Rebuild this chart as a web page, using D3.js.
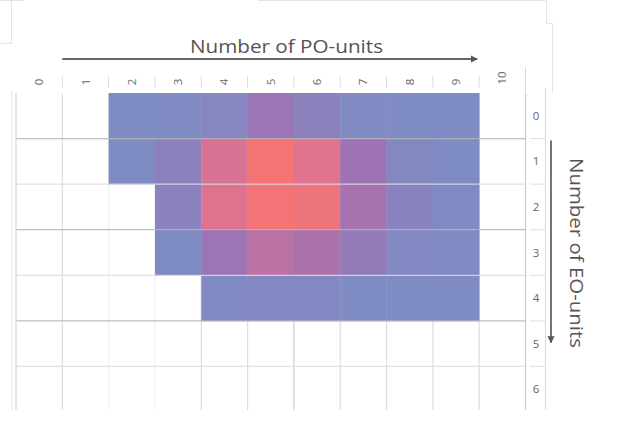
<!DOCTYPE html>
<html>
<head>
<meta charset="utf-8">
<script src="https://cdn.jsdelivr.net/npm/d3@7"></script>
<style>
  html, body { margin: 0; padding: 0; background: #fff; }
  svg { display: block; }
  text { font-family: "Open Sans", "Liberation Sans", sans-serif; }
</style>
</head>
<body>
<script>
// number of PO-units (columns) and EO-units (rows)
const poUnits = [0, 1, 2, 3, 4, 5, 6, 7, 8, 9, 10]
const eoUnits = [0, 1, 2, 3, 4, 5, 6]

// relative frequency per cell (0-100), null = no observation
const eo0 = [null, null, 0, 1, 9, 36, 17, 3, 0, 0, null]
const eo1 = [null, null, 0, 17, 77, 100, 83, 40, 8, 0, null]
const eo2 = [null, null, null, 15, 82, 99, 95, 46, 13, 1, null]
const eo3 = [null, null, null, 0, 36, 58, 49, 28, 5, 1, null]
const eo4 = [null, null, null, null, 3, 6, 4, 0, 0, 0, null]
const eo5 = [null, null, null, null, null, null, null, null, null, null, null]
const eo6 = [null, null, null, null, null, null, null, null, null, null, null]
const rowsValues = [eo0, eo1, eo2, eo3, eo4, eo5, eo6]

const xTitle = "Number of PO-units"
const yTitle = "Number of EO-units"

const width = 624
const height = 436

const cells = []
rowsValues.forEach((row, r) => {
    row.forEach((v, c) => {
        if (v !== null) cells.push({ po: poUnits[c], eo: eoUnits[r], value: v })
    })
})

const svg = d3.select("body").append("svg")
    .attr("width", width)
    .attr("height", height)

const x = d3.scaleBand().domain(poUnits).range([16, 525.5])
const y = d3.scaleBand().domain(eoUnits).range([93, 412])

const color = d3.scaleLinear()
    .domain([0, 40, 80, 100])
    .range(["#7f8cc4", "#9e72b4", "#dc7392", "#f47474"])
    .interpolate(d3.interpolateRgb)

// faint frame left over from the original screenshot
const frame = svg.append("g").attr("fill", "none").attr("stroke", "#e4e4e4")
frame.append("path").attr("d", "M0,43.5H11.5V0")
frame.append("path").attr("d", "M0,0.5H24M258,0.5H546.5V23.5H552.5V92")

svg.append("clipPath").attr("id", "clip")
    .append("rect").attr("x", 0).attr("y", 88).attr("width", width).attr("height", 322)

const grid = svg.append("g").attr("clip-path", "url(#clip)")

// vertical grid lines (under the cells)
const vLines = poUnits.slice(1).concat(["end"])
grid.append("g")
    .selectAll("line")
    .data(vLines)
    .enter().append("line")
    .attr("x1", d => d === "end" ? x.range()[1] : x(d))
    .attr("x2", d => d === "end" ? x.range()[1] : x(d))
    .attr("y1", y.range()[0])
    .attr("y2", y.range()[1])
    .attr("stroke", d => d === 2 || d === 3 ? "#f0f0f0" : (d === 6 || d === "end" ? "#cdcdcd" : "#dddddd"))
    .attr("stroke-width", 1.2)

// heat cells
grid.append("g")
    .selectAll("rect")
    .data(cells)
    .enter().append("rect")
    .attr("x", d => x(d.po))
    .attr("y", d => y(d.eo))
    .attr("width", x.bandwidth() + 0.3)
    .attr("height", y.bandwidth() + 0.3)
    .attr("fill", d => color(d.value))

// horizontal grid lines
grid.append("g")
    .selectAll("line")
    .data(eoUnits.slice(1))
    .enter().append("line")
    .attr("x1", x.range()[0])
    .attr("x2", x.range()[1])
    .attr("y1", d => y(d))
    .attr("y2", d => y(d))
    .attr("stroke", d => d % 2 === 1 ? "#b4b4bd" : "#dcdce2")
    .attr("stroke-opacity", 0.85)
    .attr("stroke-width", 1.3)

// left border lines
grid.append("line").attr("x1", 12).attr("x2", 12).attr("y1", 90).attr("y2", 412)
    .attr("stroke", "#e2e2e2")
grid.append("line").attr("x1", 16).attr("x2", 16).attr("y1", 93).attr("y2", 412)
    .attr("stroke", "#d6d6d6").attr("stroke-width", 1.2)

// right label column
grid.append("line").attr("x1", 545.5).attr("x2", 545.5).attr("y1", 88).attr("y2", 412)
    .attr("stroke", "#d8d8d8")
grid.append("g")
    .selectAll("line")
    .data(eoUnits.slice(1))
    .enter().append("line")
    .attr("x1", 530)
    .attr("x2", 545)
    .attr("y1", d => y(d))
    .attr("y2", d => y(d))
    .attr("stroke", "#e0e0e0")

grid.append("g")
    .selectAll("text")
    .data(eoUnits)
    .enter().append("text")
    .attr("x", 536)
    .attr("y", d => y(d) + y.bandwidth() / 2)
    .attr("dy", "0.35em")
    .attr("text-anchor", "middle")
    .attr("font-size", 11.5)
    .attr("fill", "#666")
    .text(d => d)

// column header labels (rotated)
const header = svg.append("g")
header.selectAll("text")
    .data(poUnits)
    .enter().append("text")
    .attr("transform", d => `translate(${x(d) + x.bandwidth() / 2},${d === 10 ? 78 : 82}) rotate(-90)`)
    .attr("dy", "0.35em")
    .attr("text-anchor", "middle")
    .attr("font-size", 11.5)
    .attr("fill", "#666")
    .text(d => d)

header.selectAll("line")
    .data(poUnits.slice(1).concat(["end"]))
    .enter().append("line")
    .attr("x1", d => d === "end" ? x.range()[1] : x(d))
    .attr("x2", d => d === "end" ? x.range()[1] : x(d))
    .attr("y1", d => d === "end" ? 67 : 76)
    .attr("y2", d => d === "end" ? 92 : 88)
    .attr("stroke", "#dcdcdc")

// arrows
const defs = svg.append("defs")
defs.append("marker")
    .attr("id", "arrow")
    .attr("viewBox", "0 0 10 10")
    .attr("refX", 9)
    .attr("refY", 5)
    .attr("markerWidth", 4)
    .attr("markerHeight", 4)
    .attr("orient", "auto")
    .append("path")
    .attr("d", "M0,0L10,5L0,10Z")
    .attr("fill", "#555")

svg.append("line")
    .attr("x1", x(1)).attr("x2", x(10) - 2)
    .attr("y1", 59).attr("y2", 59)
    .attr("stroke", "#666").attr("stroke-width", 1.8)
    .attr("marker-end", "url(#arrow)")

svg.append("line")
    .attr("x1", 551).attr("x2", 551)
    .attr("y1", y(1) + 2).attr("y2", y(5) + y.bandwidth() / 2 - 1)
    .attr("stroke", "#666").attr("stroke-width", 1.8)
    .attr("marker-end", "url(#arrow)")

// axis titles
svg.append("text")
    .attr("x", 190)
    .attr("y", 53)
    .attr("font-size", 19)
    .attr("fill", "#555")
    .attr("textLength", 193)
    .attr("lengthAdjust", "spacingAndGlyphs")
    .text(xTitle)

svg.append("text")
    .attr("transform", "translate(570,158) rotate(90)")
    .attr("font-size", 19)
    .attr("fill", "#555")
    .attr("textLength", 190)
    .attr("lengthAdjust", "spacingAndGlyphs")
    .text(yTitle)
</script>
</body>
</html>
